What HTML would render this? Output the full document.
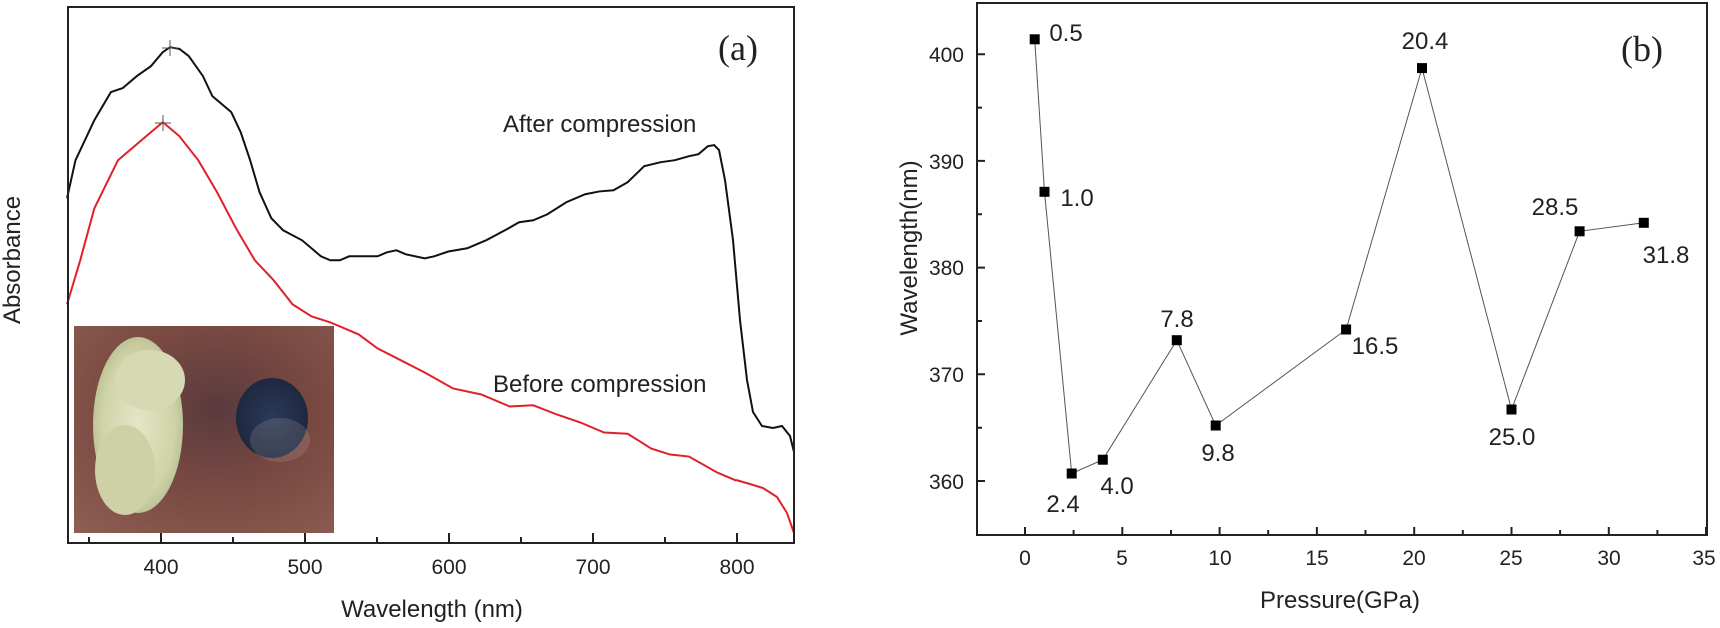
<!DOCTYPE html>
<html><head><meta charset="utf-8"><style>
html,body{margin:0;padding:0;background:#fff;}
svg{display:block;}
text{font-family:"Liberation Sans",Arial,sans-serif;fill:#222;}
.ser{font-family:"Liberation Serif","Times New Roman",serif;}
</style></head><body>
<svg width="1720" height="628" viewBox="0 0 1720 628" xmlns="http://www.w3.org/2000/svg">
<defs>
<radialGradient id="bg" cx="0.55" cy="0.4" r="0.8">
<stop offset="0" stop-color="#5a3a3e"/><stop offset="0.5" stop-color="#7a4a42"/><stop offset="1" stop-color="#8e5e55"/>
</radialGradient>
<radialGradient id="wb" cx="0.5" cy="0.5" r="0.5">
<stop offset="0" stop-color="#e4e6c6"/><stop offset="0.8" stop-color="#cfd3a8"/><stop offset="1" stop-color="#bfc497"/>
</radialGradient>
<radialGradient id="db" cx="0.5" cy="0.5" r="0.5">
<stop offset="0" stop-color="#2a3a5a"/><stop offset="1" stop-color="#1e2840"/>
</radialGradient>
</defs>

<!-- Panel (a) -->
<rect x="74" y="326" width="260" height="207" fill="url(#bg)"/>
<ellipse cx="138" cy="425" rx="45" ry="88" fill="url(#wb)"/>
<ellipse cx="125" cy="470" rx="30" ry="45" fill="#cdd1a5"/>
<ellipse cx="150" cy="380" rx="35" ry="30" fill="#d6d9b4"/>
<ellipse cx="272" cy="418" rx="36" ry="40" fill="url(#db)"/>
<ellipse cx="280" cy="440" rx="30" ry="22" fill="#c9b6b0" opacity="0.18"/>

<g transform="scale(0.47192,0.40048)" fill="none">
<path vector-effect="non-scaling-stroke" stroke="#111" stroke-width="2" d="M142,495 L160,400 L200,300 L235,230 L260,220 L290,190 L320,165 L345,130 L360,118 L380,122 L400,140 L430,190 L450,240 L490,280 L510,330 L530,400 L550,480 L575,545 L600,575 L640,600 L660,620 L680,640 L700,650 L720,650 L740,640 L780,640 L800,640 L820,630 L840,625 L860,635 L900,645 L920,640 L950,628 L990,620 L1030,600 L1070,575 L1100,555 L1130,550 L1160,535 L1200,505 L1240,485 L1270,478 L1300,475 L1330,455 L1365,415 L1400,405 L1430,400 L1460,390 L1480,385 L1500,365 L1515,362"/>
<path vector-effect="non-scaling-stroke" stroke="#e0202a" stroke-width="2" d="M142,760 L170,650 L200,520 L250,400 L300,350 L345,305 L380,340 L420,400 L460,480 L500,570 L540,650 L580,700 L620,760 L660,790 L700,805 L760,835 L800,870 L850,900 L900,930 L960,970 L1020,985 L1080,1015 L1130,1012 L1180,1035 L1230,1055 L1280,1080 L1330,1083 L1380,1120 L1420,1135 L1460,1140 L1520,1180 L1560,1200"/>
</g>
<path fill="none" stroke="#111" stroke-width="2" d="M714,145 L719,150 L725,180 L733,240 L740,320 L747,380 L753,412 L762,426 L773,428 L782,426 L790,436 L794,452"/>
<path fill="none" stroke="#e0202a" stroke-width="2" d="M736,480 L750,484 L763,488 L777,497 L787,513 L794,533"/>
<path stroke="#555" stroke-width="1" d="M170,40 V56 M162,48 H178 M163,115 V131 M155,123 H171"/>

<rect x="68" y="7" width="726" height="536" fill="none" stroke="#222" stroke-width="2"/>
<path stroke="#222" stroke-width="2" d="M161,543 V533 M305,543 V533 M449,543 V533 M593,543 V533 M737,543 V533 M89,543 V537 M233,543 V537 M377,543 V537 M521,543 V537 M665,543 V537"/>
<g font-size="21" text-anchor="middle">
<text x="161" y="574">400</text><text x="305" y="574">500</text><text x="449" y="574">600</text><text x="593" y="574">700</text><text x="737" y="574">800</text>
</g>
<text x="432" y="617" font-size="24" text-anchor="middle">Wavelength (nm)</text>
<text transform="translate(20,260) rotate(-90)" font-size="24" text-anchor="middle">Absorbance</text>
<text x="503" y="132" font-size="24">After compression</text>
<text x="493" y="392" font-size="24">Before compression</text>
<text class="ser" x="738" y="60" font-size="36" text-anchor="middle">(a)</text>

<!-- Panel (b) -->
<rect x="977" y="3" width="730" height="532" fill="none" stroke="#222" stroke-width="2"/>
<g stroke="#222" stroke-width="2">
<path d="M1025,535 V527 M1122.3,535 V527 M1219.6,535 V527 M1316.9,535 V527 M1414.2,535 V527 M1511.5,535 V527 M1608.8,535 V527 M1706,535 V527"/>
<path d="M1073.6,535 V530 M1171,535 V530 M1268.2,535 V530 M1365.5,535 V530 M1462.8,535 V530 M1560.1,535 V530 M1657.4,535 V530"/>
<path d="M977,481 H985 M977,374.3 H985 M977,267.6 H985 M977,160.9 H985 M977,54.2 H985"/>
<path d="M977,427.7 H982 M977,321 H982 M977,214.3 H982 M977,107.6 H982"/>
</g>
<g font-size="21" text-anchor="end">
<text x="964" y="489">360</text><text x="964" y="382">370</text><text x="964" y="275">380</text><text x="964" y="169">390</text><text x="964" y="62">400</text>
</g>
<g font-size="21" text-anchor="middle">
<text x="1025" y="565">0</text><text x="1122" y="565">5</text><text x="1220" y="565">10</text><text x="1317" y="565">15</text><text x="1414" y="565">20</text><text x="1511" y="565">25</text><text x="1609" y="565">30</text><text x="1704" y="565">35</text>
</g>
<text x="1340" y="608" font-size="24" text-anchor="middle">Pressure(GPa)</text>
<text transform="translate(917,248) rotate(-90)" font-size="24" text-anchor="middle">Wavelength(nm)</text>
<text class="ser" x="1642" y="61" font-size="36" text-anchor="middle">(b)</text>

<polyline fill="none" stroke="#555" stroke-width="1" points="1034.7,39.3 1044.5,191.8 1071.7,473.5 1102.8,459.7 1176.8,340.2 1215.7,425.5 1346.1,329.5 1422,68.1 1511.5,409.5 1579.6,231.3 1643.8,222.8"/>
<g fill="#000">
<rect x="1029.7" y="34.3" width="10" height="10"/><rect x="1039.5" y="186.8" width="10" height="10"/>
<rect x="1066.7" y="468.5" width="10" height="10"/><rect x="1097.8" y="454.7" width="10" height="10"/>
<rect x="1171.8" y="335.2" width="10" height="10"/><rect x="1210.7" y="420.5" width="10" height="10"/>
<rect x="1341.1" y="324.5" width="10" height="10"/><rect x="1417" y="63.1" width="10" height="10"/>
<rect x="1506.5" y="404.5" width="10" height="10"/><rect x="1574.6" y="226.3" width="10" height="10"/>
<rect x="1638.8" y="217.8" width="10" height="10"/>
</g>
<g font-size="24" text-anchor="middle">
<text x="1066" y="41">0.5</text><text x="1077" y="206">1.0</text><text x="1063" y="512">2.4</text>
<text x="1117" y="494">4.0</text><text x="1177" y="327">7.8</text><text x="1218" y="461">9.8</text>
<text x="1375" y="354">16.5</text><text x="1425" y="49">20.4</text><text x="1512" y="445">25.0</text>
<text x="1555" y="215">28.5</text><text x="1666" y="263">31.8</text>
</g>
</svg>
</body></html>
